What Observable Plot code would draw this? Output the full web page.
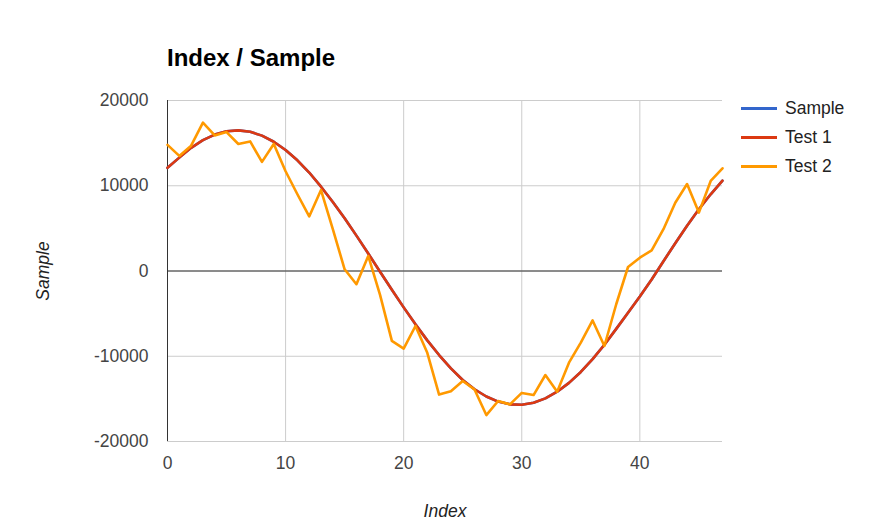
<!DOCTYPE html>
<html>
<head>
<meta charset="utf-8">
<script src="https://cdn.jsdelivr.net/npm/d3@7"></script>
<script src="https://cdn.jsdelivr.net/npm/@observablehq/plot@0.6"></script>
<style>
  html, body { margin: 0; padding: 0; background: #fff; }
  #wrap { position: relative; width: 877px; height: 530px; font-family: "Liberation Sans", Arial, sans-serif; }
  #title { position: absolute; left: 167px; top: 43px; font-size: 24px; font-weight: bold; color: #000; line-height: 30px; }
  .leg { position: absolute; left: 741px; font-size: 17.5px; color: #222; height: 20px; }
  .leg span.sw { position: absolute; left: 0; top: 9px; width: 36px; height: 3px; }
  .leg span.tx { position: absolute; left: 44px; top: 0; line-height: 20px; white-space: nowrap; }
</style>
</head>
<body>
<div id="wrap">
  <div id="title">Index / Sample</div>
  <div id="chart"></div>
  <div id="legend"></div>
</div>
<script>
const seriesNames = ["Sample", "Test 1", "Test 2"];
const seriesColors = ["#3366cc", "#dc3912", "#ff9900"];
const index = d3.range(0, 48);
const sampleValues = [12100, 13300, 14450, 15350, 16000, 16390, 16500, 16330, 15880, 15160,
  14190, 12980, 11550, 9890, 8100, 6180, 4150, 2050, -80, -2200,
  -4270, -6260, -8140, -9860, -11420, -12780, -13870, -14720, -15320, -15640,
  -15690, -15450, -14940, -14160, -13120, -11840, -10340, -8650, -6790, -4900,
  -3000, -1000, 1150, 3250, 5300, 7250, 9000, 10600];
const test1Values = sampleValues.slice();
const test2Values = [14800, 13500, 14700, 17400, 15900, 16300, 14900, 15200, 12800, 14900,
  11700, 9000, 6400, 9500, 4900, 200, -1550, 1760, -2800, -8200,
  -9100, -6450, -9600, -14500, -14100, -12900, -13900, -16900, -15250, -15650,
  -14300, -14550, -12200, -14150, -10750, -8400, -5800, -8800, -3900, 470,
  1560, 2430, 4900, 8000, 10200, 6850, 10560, 12050];
const xTicks = [0, 10, 20, 30, 40];
const yTicks = [-20000, -10000, 0, 10000, 20000];

const allValues = [sampleValues, test1Values, test2Values];
const data = [];
allValues.forEach((vals, s) => vals.forEach((v, i) => data.push({series: seriesNames[s], x: index[i], y: v})));

const chart = Plot.plot({
  width: 877,
  height: 530,
  marginLeft: 167,
  marginRight: 155,
  marginTop: 100,
  marginBottom: 89,
  style: {fontFamily: "'Liberation Sans', Arial, sans-serif", fontSize: "17.5px", color: "#444", background: "#fff"},
  x: {domain: [0, 47]},
  y: {domain: [-20000, 20000]},
  color: {domain: seriesNames, range: seriesColors},
  marks: [
    Plot.gridX(xTicks, {stroke: "#cccccc", strokeOpacity: 1, strokeWidth: 1}),
    Plot.gridY(yTicks, {stroke: "#cccccc", strokeOpacity: 1, strokeWidth: 1}),
    Plot.ruleY([0], {stroke: "#333333", strokeWidth: 1}),
    Plot.ruleX([0], {stroke: "#333333", strokeWidth: 1}),
    Plot.axisX(xTicks, {tickSize: 0, tickPadding: 15, label: null, fill: "#444", fontSize: 17.5}),
    Plot.axisY(yTicks, {tickSize: 0, tickPadding: 19, label: null, fill: "#444", fontSize: 17.5, tickFormat: d => String(d)}),
    Plot.line(data, {x: "x", y: "y", z: "series", stroke: "series", strokeWidth: 2.6}),
    Plot.text(["Index"], {frameAnchor: "bottom", dy: 75, fontStyle: "italic", fill: "#222", fontSize: 17.5}),
    Plot.text(["Sample"], {frameAnchor: "left", textAnchor: "middle", dx: -124, rotate: -90, fontStyle: "italic", fill: "#222", fontSize: 17.5})
  ]
});
document.getElementById("chart").appendChild(chart);

const legend = document.getElementById("legend");
const legTops = [98, 127, 156];
seriesNames.forEach((n, i) => {
  const d = document.createElement("div");
  d.className = "leg";
  d.style.top = legTops[i] + "px";
  d.innerHTML = `<span class="sw" style="background:${seriesColors[i]}"></span><span class="tx">${n}</span>`;
  legend.appendChild(d);
});
</script>
</body>
</html>
